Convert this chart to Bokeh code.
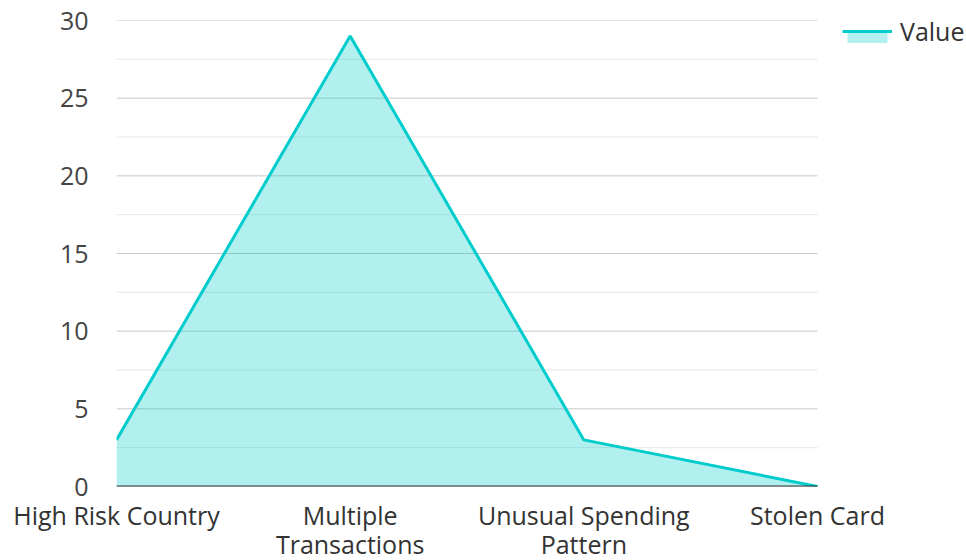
from bokeh.plotting import figure
from bokeh.models import Range1d, FixedTicker, Legend, LegendItem
from bokeh.embed import file_html
from bokeh.resources import INLINE

categories = ["High Risk Country", "Multiple\nTransactions", "Unusual Spending\nPattern", "Stolen Card"]
values = [3, 29, 3, 0]
y_ticks = [0, 5, 10, 15, 20, 25, 30]
y_minor = [2.5, 7.5, 12.5, 17.5, 22.5, 27.5]
series_name = "Value"

xs = list(range(len(categories)))
x_last = len(categories) - 1
FONT = "Open Sans"
FS = "25px"

# plot area: categories span 701px; the frame continues to the right edge to hold the legend
PLOT_W, FRAME_W = 701, 850
x_end = x_last * FRAME_W / PLOT_W

p = figure(frame_width=FRAME_W, frame_height=466, x_range=Range1d(0, x_end), y_range=Range1d(0, 30),
           output_backend="svg", toolbar_location=None,
           min_border_left=116, min_border_right=0, min_border_top=20, min_border_bottom=60)
p.outline_line_color = None
p.background_fill_color = "white"
p.xgrid.grid_line_color = None
p.ygrid.grid_line_color = None

# horizontal grid lines limited to the category span
p.segment(x0=[0] * len(y_minor), x1=[x_last] * len(y_minor), y0=y_minor, y1=y_minor,
          line_color="#e6e6e6", line_width=1)
p.segment(x0=[0] * len(y_ticks), x1=[x_last] * len(y_ticks), y0=y_ticks, y1=y_ticks,
          line_color="#c8c8c8", line_width=1)

r_area = p.varea(x=xs, y1=[0] * len(values), y2=values, fill_color="#00cccc", fill_alpha=0.3)
r_line = p.line(xs, values, line_color="#00cccc", line_width=3)

# baseline
p.segment(x0=[0], x1=[x_last], y0=[0], y1=[0], line_color="#333333", line_width=2)

# axes
p.xaxis.ticker = FixedTicker(ticks=xs)
p.xaxis.major_label_overrides = {i: c for i, c in enumerate(categories)}
p.xaxis.major_label_text_font = FONT
p.xaxis.major_label_text_font_size = FS
p.xaxis.major_label_text_line_height = 0.88
p.xaxis.major_label_text_color = "#333333"
p.xaxis.axis_line_color = None
p.xaxis.major_tick_line_color = None
p.xaxis.minor_tick_line_color = None
p.xaxis.major_label_standoff = 5

p.yaxis.ticker = FixedTicker(ticks=y_ticks, minor_ticks=y_minor)
p.yaxis.major_label_text_font = FONT
p.yaxis.major_label_text_font_size = FS
p.yaxis.major_label_text_color = "#444444"
p.yaxis.axis_line_color = None
p.yaxis.major_tick_line_color = None
p.yaxis.minor_tick_line_color = None
p.yaxis.major_label_standoff = 22

# legend: filled swatch, then the line (with the label) along the swatch's top edge
LEG_X = PLOT_W + 25
legend_fill = Legend(items=[LegendItem(label=" ", renderers=[r_area])],
                     location=(LEG_X, 442), padding=0, margin=0, spacing=0,
                     glyph_width=50, glyph_height=15, label_standoff=0,
                     label_text_font=FONT, label_text_font_size="3px",
                     border_line_color=None, background_fill_alpha=0)
p.add_layout(legend_fill, "center")

legend = Legend(items=[LegendItem(label=series_name, renderers=[r_line])],
                location=(LEG_X, 438), padding=0, margin=0, spacing=0,
                glyph_width=50, glyph_height=4, label_standoff=8,
                label_text_font=FONT, label_text_font_size=FS, label_text_color="#333333",
                border_line_color=None, background_fill_alpha=0)
p.add_layout(legend, "center")

open("out.html", "w").write(file_html(p, INLINE))
